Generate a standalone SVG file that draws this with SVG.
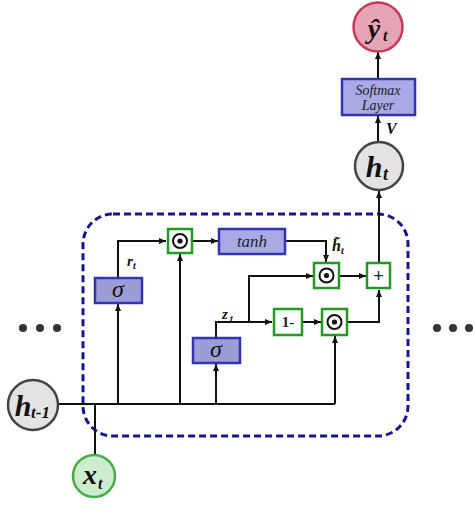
<svg xmlns="http://www.w3.org/2000/svg" width="474" height="520" viewBox="0 0 474 520">
<defs>
<marker id="ar" markerWidth="8" markerHeight="8" refX="7" refY="4" orient="auto" markerUnits="userSpaceOnUse">
<path d="M0,1 L7,4 L0,7 Z" fill="#111"/>
</marker>
<style>
.ln{fill:none;stroke:#111;stroke-width:2}
.bb{fill:#a9a9e6;stroke:#3434b0;stroke-width:2.5}
.sg{fill:#9c9cd6;stroke:#3434b0;stroke-width:2.5}
.gb{fill:#fff;stroke:#229922;stroke-width:2.5}
.it{font-family:"Liberation Serif","Times New Roman",serif;font-style:italic}
.bi{font-family:"Liberation Serif","Times New Roman",serif;font-style:italic;font-weight:bold;fill:#111}
.dot{fill:#111}
</style>
</defs>
<rect x="83" y="214" width="325" height="222" rx="30" ry="30" fill="none" stroke="#16168c" stroke-width="3" stroke-dasharray="7,4"/>
<g id="dots-left"><circle cx="23" cy="328" r="4" fill="#333"/><circle cx="40" cy="328" r="4" fill="#333"/><circle cx="57" cy="328" r="4" fill="#333"/></g>
<g id="dots-right"><circle cx="437" cy="328" r="4" fill="#333"/><circle cx="453" cy="328" r="4" fill="#333"/><circle cx="469" cy="328" r="4" fill="#333"/></g>
<g id="connectors">
<path class="ln" d="M378,142 V116" marker-end="url(#ar)"/>
<path class="ln" d="M378,78 V52" marker-end="url(#ar)"/>
<path class="ln" d="M379,263 V191" marker-end="url(#ar)"/>
<path class="ln" d="M58,404 H335"/>
<path class="ln" d="M95,455 V405"/>
<path class="ln" d="M118,404 V304" marker-end="url(#ar)"/>
<path class="ln" d="M180,404 V254" marker-end="url(#ar)"/>
<path class="ln" d="M216,404 V364" marker-end="url(#ar)"/>
<path class="ln" d="M335,404 V336" marker-end="url(#ar)"/>
<path class="ln" d="M118,277 V241 H166" marker-end="url(#ar)"/>
<path class="ln" d="M192,241 H218" marker-end="url(#ar)"/>
<path class="ln" d="M286,241 H326 V262" marker-end="url(#ar)"/>
<path class="ln" d="M216,337 V322 H272" marker-end="url(#ar)"/>
<path class="ln" d="M249,322 V276 H313" marker-end="url(#ar)"/>
<path class="ln" d="M339,276 H366" marker-end="url(#ar)"/>
<path class="ln" d="M302,322 H321" marker-end="url(#ar)"/>
<path class="ln" d="M347,322 H379 V290" marker-end="url(#ar)"/>
</g>
<g id="y-hat"><circle cx="378" cy="27" r="24.5" fill="#e6a4b4" stroke="#c8385a" stroke-width="2.5"/><text x="374" y="38" class="bi" font-size="28" text-anchor="middle">ŷ</text><text x="383" y="41" class="bi" font-size="16">t</text></g>
<g id="softmax"><rect x="342" y="79" width="73" height="36" class="bb"/><text x="378" y="95" class="it" font-size="14" text-anchor="middle" fill="#222">Softmax</text><text x="378" y="110" class="it" font-size="14" text-anchor="middle" fill="#222">Layer</text></g>
<text x="386" y="134" class="bi" font-size="16">V</text>
<g id="h-t"><circle cx="379" cy="166" r="24" fill="#e3e3e3" stroke="#444" stroke-width="2.5"/><text x="374" y="177" class="bi" font-size="30" text-anchor="middle">h</text><text x="383" y="180" class="bi" font-size="18">t</text></g>
<g id="h-prev"><circle cx="33" cy="405" r="25" fill="#e3e3e3" stroke="#444" stroke-width="2.5"/><text x="23" y="416" class="bi" font-size="30" text-anchor="middle">h</text><text x="31" y="418" class="bi" font-size="17">t-1</text></g>
<g id="x-t"><circle cx="94" cy="476" r="21" fill="#cdeccd" stroke="#46ad46" stroke-width="2.5"/><text x="90" y="484" class="bi" font-size="28" text-anchor="middle">x</text><text x="98" y="489" class="bi" font-size="16">t</text></g>
<g id="sigma-r"><rect x="95" y="278" width="47" height="25" class="sg"/><text x="118" y="297" class="it" font-size="24" text-anchor="middle" fill="#111">σ</text></g>
<text x="127" y="266" class="bi" font-size="15">r</text><text x="133" y="269" class="bi" font-size="10">t</text>
<g id="mul-r"><rect x="168" y="229" width="24" height="24" class="gb"/><circle cx="180" cy="241" r="7" fill="none" stroke="#111" stroke-width="2"/><circle cx="180" cy="241" r="2.6" class="dot"/></g>
<g id="tanh"><rect x="219" y="229" width="66" height="25" class="bb"/><text x="252" y="247" class="it" font-size="17" text-anchor="middle" fill="#222">tanh</text></g>
<g id="h-tilde-label"><text x="332" y="251" class="bi" font-size="16">h̃</text><text x="341" y="254" class="bi" font-size="10">t</text></g>
<g id="mul-h"><rect x="314" y="263" width="25" height="25" class="gb"/><circle cx="326.5" cy="275.5" r="7" fill="none" stroke="#111" stroke-width="2"/><circle cx="326.5" cy="275.5" r="2.6" class="dot"/></g>
<g id="plus"><rect x="367" y="263" width="23" height="25" class="gb"/><text x="378.5" y="282" font-family="Liberation Sans,sans-serif" font-size="18" text-anchor="middle" fill="#222">+</text></g>
<g id="sigma-z"><rect x="193" y="338" width="47" height="25" class="sg"/><text x="216" y="357" class="it" font-size="24" text-anchor="middle" fill="#111">σ</text></g>
<text x="222" y="319" class="bi" font-size="15">z</text><text x="230" y="322" class="bi" font-size="10">t</text>
<g id="one-minus"><rect x="274" y="309" width="28" height="26" class="gb"/><text x="288" y="327" font-family="Liberation Serif,serif" font-weight="bold" font-size="15" text-anchor="middle" fill="#222">1-</text></g>
<g id="mul-z"><rect x="322" y="309" width="25" height="26" class="gb"/><circle cx="334.5" cy="322" r="7" fill="none" stroke="#111" stroke-width="2"/><circle cx="334.5" cy="322" r="2.6" class="dot"/></g>
</svg>
